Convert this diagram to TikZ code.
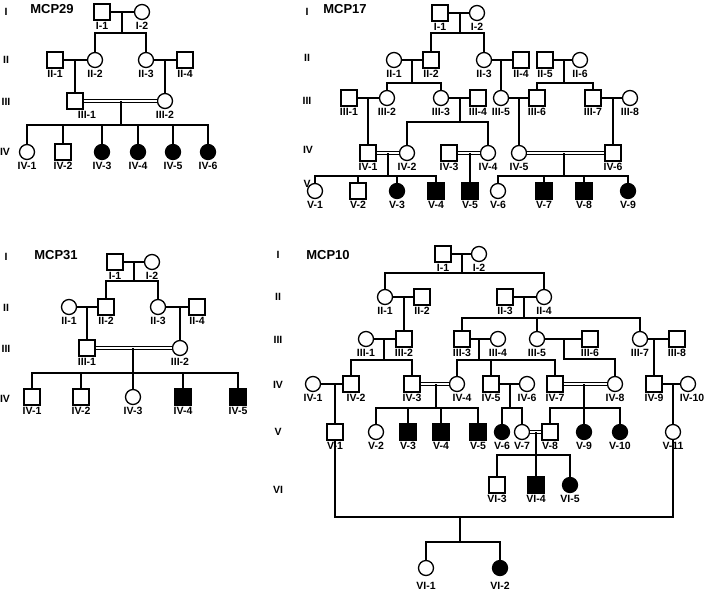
\documentclass[tikz,border=0pt]{standalone}
\usepackage{fontspec}
\setmainfont{Liberation Sans}
\usetikzlibrary{calc}
\tikzset{
  m/.style={draw, rectangle, minimum size=16, inner sep=0, fill=white},
  f/.style={draw, circle, minimum size=15, inner sep=0, fill=white},
  aff/.style={fill=black},
  ma/.style={m, aff},
  fa/.style={f, aff},
  gen/.style={font=\fontsize{10.5}{12}\bfseries\selectfont},
  ttl/.style={font=\fontsize{13}{15}\bfseries\selectfont},
  every label/.style={font=\fontsize{10.5}{12}\bfseries\selectfont, inner sep=1},
  cons/.style={double, double distance=2.2, line width=1.1},
}
\begin{document}
\begin{tikzpicture}[x=1pt, y=-1pt, line width=1.3]
  \useasboundingbox (0,0) rectangle (708,594);
  % generation labels
  \foreach \t/\x/\y in {I/6/12, II/6/60, III/6/102, IV/5/152, I/6/257, II/6/308, III/6/349, IV/5/399,
      I/307/12, II/307/58, III/307/101, IV/308/150, V/307/184,
      I/278/255, II/278/297, III/278/340, IV/278/385, V/278/432, VI/278/490}
    \node[gen] at (\x,\y) {\t};

  % ---------------- MCP29 ----------------
  \node[ttl] (a-t) at (52,9) {MCP29};
  \node[m, label=below:I-1] (a-I1) at (102,12) {};
  \node[f, label=below:I-2] (a-I2) at (142,12) {};
  \node[m, label=below:II-1] (a-II1) at (55,60) {};
  \node[f, label=below:II-2] (a-II2) at (95,60) {};
  \node[f, label=below:II-3] (a-II3) at (146,60) {};
  \node[m, label=below:II-4] (a-II4) at (185,60) {};
  \node[m, label={[xshift=12]below:III-1}] (a-III1) at (75,101) {};
  \node[f, label=below:III-2] (a-III2) at (165,101) {};
  \foreach \n/\x/\s in {1/27/f, 2/63/m, 3/102/fa, 4/138/fa, 5/173/fa, 6/208/fa}
    \node[\s, label=below:IV-\n] (a-IV\n) at (\x,152) {};
  \coordinate (a-j1) at (122,33);
  \coordinate (a-j2) at (121,125);
  \draw (a-I1) -- (a-I2);
  \draw (a-j1 |- a-I1) -- (a-j1);
  \draw (a-j1) -| (a-II2);
  \draw (a-j1) -| (a-II3);
  \draw (a-II1) -- (a-II2);
  \draw (a-II3) -- (a-II4);
  \draw (a-III1 |- a-II1) -- (a-III1);
  \draw (a-III2 |- a-II3) -- (a-III2);
  \draw[cons] (a-III1) -- (a-III2);
  \draw (a-j2 |- a-III1) -- (a-j2);
  \foreach \n in {1,...,6} \draw (a-j2) -| (a-IV\n);

  % ---------------- MCP31 ----------------
  \node[ttl] (c-t) at (56,255) {MCP31};
  \node[m, label=below:I-1] (c-I1) at (115,262) {};
  \node[f, label=below:I-2] (c-I2) at (152,262) {};
  \node[f, label=below:II-1] (c-II1) at (69,307) {};
  \node[m, label=below:II-2] (c-II2) at (106,307) {};
  \node[f, label=below:II-3] (c-II3) at (158,307) {};
  \node[m, label=below:II-4] (c-II4) at (197,307) {};
  \node[m, label=below:III-1] (c-III1) at (87,348) {};
  \node[f, label=below:III-2] (c-III2) at (180,348) {};
  \foreach \n/\x/\s in {1/32/m, 2/81/m, 3/133/f, 4/183/ma, 5/238/ma}
    \node[\s, label=below:IV-\n] (c-IV\n) at (\x,397) {};
  \coordinate (c-j1) at (134,281);
  \coordinate (c-j2) at (133,373);
  \draw (c-I1) -- (c-I2);
  \draw (c-j1 |- c-I1) -- (c-j1);
  \draw (c-j1) -| (c-II2);
  \draw (c-j1) -| (c-II3);
  \draw (c-II1) -- (c-II2);
  \draw (c-II3) -- (c-II4);
  \draw (c-III1 |- c-II1) -- (c-III1);
  \draw (c-III2 |- c-II3) -- (c-III2);
  \draw[cons] (c-III1) -- (c-III2);
  \draw (c-j2 |- c-III1) -- (c-j2);
  \foreach \n in {1,...,5} \draw (c-j2) -| (c-IV\n);

  % ---------------- MCP17 ----------------
  \node[ttl] (b-t) at (345,9) {MCP17};
  \node[m, label=below:I-1] (b-I1) at (440,13) {};
  \node[f, label=below:I-2] (b-I2) at (477,13) {};
  \node[f, label=below:II-1] (b-II1) at (394,60) {};
  \node[m, label=below:II-2] (b-II2) at (431,60) {};
  \node[f, label=below:II-3] (b-II3) at (484,60) {};
  \node[m, label=below:II-4] (b-II4) at (521,60) {};
  \node[m, label=below:II-5] (b-II5) at (545,60) {};
  \node[f, label=below:II-6] (b-II6) at (580,60) {};
  \node[m, label=below:III-1] (b-III1) at (349,98) {};
  \node[f, label=below:III-2] (b-III2) at (387,98) {};
  \node[f, label=below:III-3] (b-III3) at (441,98) {};
  \node[m, label=below:III-4] (b-III4) at (478,98) {};
  \node[f, label=below:III-5] (b-III5) at (501,98) {};
  \node[m, label=below:III-6] (b-III6) at (537,98) {};
  \node[m, label=below:III-7] (b-III7) at (593,98) {};
  \node[f, label=below:III-8] (b-III8) at (630,98) {};
  \node[m, label=below:IV-1] (b-IV1) at (368,153) {};
  \node[f, label=below:IV-2] (b-IV2) at (407,153) {};
  \node[m, label=below:IV-3] (b-IV3) at (449,153) {};
  \node[f, label=below:IV-4] (b-IV4) at (488,153) {};
  \node[f, label=below:IV-5] (b-IV5) at (519,153) {};
  \node[m, label=below:IV-6] (b-IV6) at (613,153) {};
  \foreach \n/\x/\s in {1/315/f, 2/358/m, 3/397/fa, 4/436/ma, 5/470/ma,
      6/498/f, 7/544/ma, 8/584/ma, 9/628/fa}
    \node[\s, label=below:V-\n] (b-V\n) at (\x,191) {};
  \coordinate (b-j1) at (460,33);
  \coordinate (b-j2) at (412,83);
  \coordinate (b-j3) at (564,83);
  \coordinate (b-j4) at (460,122);
  \coordinate (b-j5) at (388,176);
  \coordinate (b-j6) at (564,176);
  \draw (b-I1) -- (b-I2);
  \draw (b-j1 |- b-I1) -- (b-j1);
  \draw (b-j1) -| (b-II2);
  \draw (b-j1) -| (b-II3);
  \draw (b-II1) -- (b-II2);
  \draw (b-II3) -- (b-II4);
  \draw (b-II5) -- (b-II6);
  \draw (b-j2 |- b-II1) -- (b-j2);
  \draw (b-j2) -| (b-III2);
  \draw (b-j2) -| (b-III3);
  \draw (b-j3 |- b-II5) -- (b-j3);
  \draw (b-j3) -| (b-III6);
  \draw (b-j3) -| (b-III7);
  \draw (b-III5 |- b-II3) -- (b-III5);
  \draw (b-III1) -- (b-III2);
  \draw (b-III3) -- (b-III4);
  \draw (b-III5) -- (b-III6);
  \draw (b-III7) -- (b-III8);
  \draw (b-IV1 |- b-III1) -- (b-IV1);
  \draw (b-j4 |- b-III3) -- (b-j4);
  \draw (b-j4) -| (b-IV2);
  \draw (b-j4) -| (b-IV4);
  \draw (b-IV5 |- b-III5) -- (b-IV5);
  \draw (b-IV6 |- b-III7) -- (b-IV6);
  \draw[cons] (b-IV1) -- (b-IV2);
  \draw[cons] (b-IV3) -- (b-IV4);
  \draw[cons] (b-IV5) -- (b-IV6);
  \draw (b-j5 |- b-IV1) -- (b-j5);
  \foreach \n in {1,...,4} \draw (b-j5) -| (b-V\n);
  \draw (b-V5 |- b-IV3) -- (b-V5);
  \draw (b-j6 |- b-IV5) -- (b-j6);
  \foreach \n in {6,...,9} \draw (b-j6) -| (b-V\n);

  % ---------------- MCP10 ----------------
  \node[ttl] (d-t) at (328,255) {MCP10};
  \node[m, label=below:I-1] (d-I1) at (443,254) {};
  \node[f, label=below:I-2] (d-I2) at (479,254) {};
  \node[f, label=below:II-1] (d-II1) at (385,297) {};
  \node[m, label=below:II-2] (d-II2) at (422,297) {};
  \node[m, label=below:II-3] (d-II3) at (505,297) {};
  \node[f, label=below:II-4] (d-II4) at (544,297) {};
  \node[f, label=below:III-1] (d-III1) at (366,339) {};
  \node[m, label=below:III-2] (d-III2) at (404,339) {};
  \node[m, label=below:III-3] (d-III3) at (462,339) {};
  \node[f, label=below:III-4] (d-III4) at (498,339) {};
  \node[f, label=below:III-5] (d-III5) at (537,339) {};
  \node[m, label=below:III-6] (d-III6) at (590,339) {};
  \node[f, label=below:III-7] (d-III7) at (640,339) {};
  \node[m, label=below:III-8] (d-III8) at (677,339) {};
  \node[f, label=below:IV-1] (d-IV1) at (313,384) {};
  \node[m, label={[xshift=5]below:IV-2}] (d-IV2) at (351,384) {};
  \node[m, label=below:IV-3] (d-IV3) at (412,384) {};
  \node[f, label={[xshift=5]below:IV-4}] (d-IV4) at (457,384) {};
  \node[m, label=below:IV-5] (d-IV5) at (491,384) {};
  \node[f, label=below:IV-6] (d-IV6) at (527,384) {};
  \node[m, label=below:IV-7] (d-IV7) at (555,384) {};
  \node[f, label=below:IV-8] (d-IV8) at (615,384) {};
  \node[m, label=below:IV-9] (d-IV9) at (654,384) {};
  \node[f, label={[xshift=4]below:IV-10}] (d-IV10) at (688,384) {};
  \foreach \n/\x/\s in {1/335/m, 2/376/f, 3/408/ma, 4/441/ma, 5/478/ma,
      6/502/fa, 7/522/f, 8/550/m, 9/584/fa, 10/620/fa, 11/673/f}
    \node[\s, label=below:V-\n] (d-V\n) at (\x,432) {};
  \foreach \n/\x/\s in {3/497/m, 4/536/ma, 5/570/fa}
    \node[\s, label=below:VI-\n] (d-VI\n) at (\x,485) {};
  \node[f, label={[label distance=4]below:VI-1}] (d-VI1) at (426,568) {};
  \node[fa, label={[label distance=4]below:VI-2}] (d-VI2) at (500,568) {};
  \coordinate (d-j1) at (462,273);
  \coordinate (d-j2) at (524,318);
  \coordinate (d-j3) at (384,360);
  \coordinate (d-j4) at (479,360);
  \coordinate (d-j5) at (564,359);
  \coordinate (d-j6) at (436,408);
  \coordinate (d-j7) at (510,408);
  \coordinate (d-j8) at (584,408);
  \coordinate (d-j9) at (536,455);
  \coordinate (d-j10) at (460,517);
  \coordinate (d-j11) at (460,542);
  \draw (d-I1) -- (d-I2);
  \draw (d-j1 |- d-I1) -- (d-j1);
  \draw (d-j1) -| (d-II1);
  \draw (d-j1) -| (d-II4);
  \draw (d-II1) -- (d-II2);
  \draw (d-II3) -- (d-II4);
  \draw (d-III2 |- d-II1) -- (d-III2);
  \draw (d-j2 |- d-II3) -- (d-j2);
  \foreach \c in {III3, III5, III7} \draw (d-j2) -| (d-\c);
  \draw (d-III1) -- (d-III2);
  \draw (d-III3) -- (d-III4);
  \draw (d-III5) -- (d-III6);
  \draw (d-III7) -- (d-III8);
  \draw (d-j3 |- d-III1) -- (d-j3);
  \draw (d-j3) -| (d-IV2);
  \draw (d-j3) -| (d-IV3);
  \draw (d-j4 |- d-III3) -- (d-j4);
  \foreach \c in {IV4, IV5, IV7} \draw (d-j4) -| (d-\c);
  \draw (d-j5 |- d-III5) -- (d-j5) -| (d-IV8);
  \draw (d-IV9 |- d-III7) -- (d-IV9);
  \draw (d-IV1) -- (d-IV2);
  \draw[cons] (d-IV3) -- (d-IV4);
  \draw (d-IV5) -- (d-IV6);
  \draw[cons] (d-IV7) -- (d-IV8);
  \draw (d-IV9) -- (d-IV10);
  \draw (d-V1 |- d-IV1) -- (d-V1);
  \draw (d-j6 |- d-IV3) -- (d-j6);
  \foreach \n in {2,...,5} \draw (d-j6) -| (d-V\n);
  \draw (d-j7 |- d-IV5) -- (d-j7);
  \draw (d-j7) -| (d-V6);
  \draw (d-j7) -| (d-V7);
  \draw (d-j8 |- d-IV7) -- (d-j8);
  \foreach \n in {8,9,10} \draw (d-j8) -| (d-V\n);
  \draw (d-V11 |- d-IV9) -- (d-V11);
  \draw[cons] (d-V7) -- (d-V8);
  \draw (d-j9 |- d-V7) -- (d-j9);
  \foreach \n in {3,4,5} \draw (d-j9) -| (d-VI\n);
  \draw (d-V1) |- (d-j10) -| (d-V11);
  \draw (d-j10) -- (d-j11);
  \draw (d-j11) -| (d-VI1);
  \draw (d-j11) -| (d-VI2);
\end{tikzpicture}
\end{document}
